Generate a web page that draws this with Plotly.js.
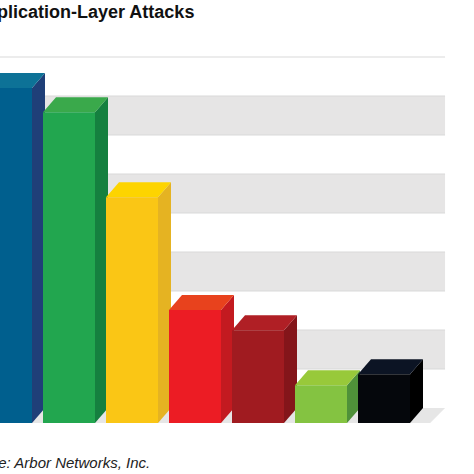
<!DOCTYPE html>
<html><head><meta charset="utf-8">
<script src="https://cdn.plot.ly/plotly-3.0.1.min.js"></script>
<style>html,body{margin:0;padding:0;background:#fff;overflow:hidden}</style>
</head><body><div id="c" style="width:474px;height:474px"></div>
<script>
const positions = [0,1,2,3,4,5,6];
const values = [8.59,7.97,5.79,2.90,2.38,0.97,1.25];
const frontColors = ['#005f8e','#22a64f','#fac615','#ec1c24','#a01b20','#84c341','#05070c'];
const sideColors  = ['#1f3f78','#15803f','#e5b322','#c31a20','#84151a','#4f9139','#000000'];
const topColors   = ['#0d7297','#3aa94b','#fdd400','#e8421d','#b01f25','#98c93a','#0c1424'];
const titleText = '<b>Application-Layer Attacks</b>';
const sourceText = '<i>Source: Arbor Networks, Inc.</i>';

const pitch = 63, unit = 39;
const barW = 52/pitch, dx = 13/pitch, dy = 15/unit;
const xr = [-6/pitch, 468/pitch], yr = [-51/unit, 423/unit];
const bandTicks = [1,2,3,4,5,6,7,8,9];

const traces = [];
positions.forEach((p,i)=>{
  const l=p-barW/2, r=p+barW/2, v=values[i];
  traces.push({type:'scatter',mode:'lines',fill:'toself',fillcolor:sideColors[i],line:{width:0},hoverinfo:'skip',
    x:[r,r+dx,r+dx,r,r],y:[0,dy,v+dy,v,0]});
  traces.push({type:'scatter',mode:'lines',fill:'toself',fillcolor:topColors[i],line:{width:0},hoverinfo:'skip',
    x:[l,l+dx,r+dx,r,l],y:[v,v+dy,v+dy,v,v]});
});
traces.push({type:'bar',xaxis:'x2',yaxis:'y2',x:positions,y:values,width:barW,
  marker:{color:frontColors,line:{width:0}},hoverinfo:'skip'});

const frontRight = 6+barW/2+0.32;
const rightEdge = frontRight+dx+0.03;
const shapes = [];
shapes.push({type:'path',layer:'below',xref:'x',yref:'y',
  path:`M ${xr[0]} 0 L ${frontRight} 0 L ${rightEdge} ${dy} L ${xr[0]} ${dy} Z`,
  fillcolor:'#e6e6e6',line:{width:0}});
[1,3,5,7].forEach(b=>shapes.push({type:'rect',layer:'below',xref:'x',yref:'y',
  x0:xr[0],x1:rightEdge,y0:dy+b,y1:dy+b+1,fillcolor:'#e6e5e5',line:{width:0}}));
bandTicks.forEach(t=>shapes.push({type:'line',layer:'below',xref:'x',yref:'y',
  x0:xr[0],x1:rightEdge,y0:dy+t,y1:dy+t,line:{color:'#d9d9d9',width:1}}));

const hidden = r => ({range:r,visible:false,fixedrange:true});
Plotly.newPlot('c',traces,{
  width:474,height:474,margin:{l:0,r:0,t:0,b:0},showlegend:false,
  paper_bgcolor:'#fff',plot_bgcolor:'rgba(0,0,0,0)',
  xaxis:hidden(xr),yaxis:hidden(yr),
  xaxis2:Object.assign(hidden(xr),{overlaying:'x',anchor:'y2'}),
  yaxis2:Object.assign(hidden(yr),{overlaying:'y',anchor:'x2'}),
  shapes:shapes,
  annotations:[
    {text:titleText,xref:'paper',yref:'paper',x:195.5/474,y:1-12/474,xanchor:'right',yanchor:'middle',showarrow:false,
     font:{family:'Liberation Sans, Arial, sans-serif',size:18,color:'#111'}},
    {text:sourceText,xref:'paper',yref:'paper',x:152/474,y:1-462/474,xanchor:'right',yanchor:'middle',showarrow:false,
     font:{family:'Liberation Sans, Arial, sans-serif',size:15,color:'#222'}}
  ]
},{displayModeBar:false,staticPlot:true});
</script></body></html>
